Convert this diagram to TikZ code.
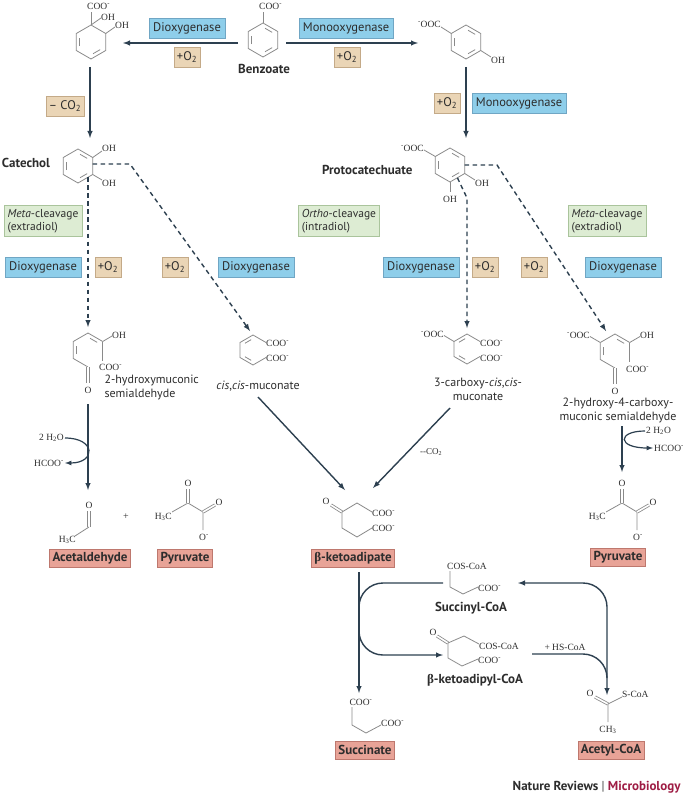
\documentclass[tikz,border=0pt]{standalone}
\usepackage{xcolor}
\usepackage{fontspec}
\setmainfont{PT Sans}
\newfontfamily\chemfont{Liberation Serif}
\usetikzlibrary{arrows,shapes,positioning}

\definecolor{enzfill}{RGB}{142,206,234}
\definecolor{enzline}{RGB}{112,166,196}
\definecolor{cofill}{RGB}{234,213,182}
\definecolor{coline}{RGB}{196,170,136}
\definecolor{clfill}{RGB}{221,236,211}
\definecolor{clline}{RGB}{170,196,156}
\definecolor{prfill}{RGB}{232,163,151}
\definecolor{prline}{RGB}{190,120,110}
\definecolor{arrowcol}{RGB}{45,64,80}
\definecolor{bondcol}{RGB}{138,138,138}
\definecolor{inkcol}{RGB}{45,45,45}
\definecolor{microred}{RGB}{158,28,68}

\newcommand{\boxfont}{\fontsize{12.5}{14}\selectfont}
\newcommand{\cleavefont}{\fontsize{11.5}{13.5}\selectfont}
\newcommand{\namefont}{\fontsize{12}{14}\selectfont}
\newcommand{\boldfont}{\fontsize{13}{15}\selectfont\bfseries}
\newcommand{\coo}{COO\textsuperscript{-}}
\newcommand{\ooc}{\textsuperscript{-}OOC}
\newcommand{\oxy}{+O\textsubscript{2}}
\newcommand{\betasym}{{\chemfont β}}

% ring: centre, radius, start angles of the inner double bonds
\newcommand{\hexring}[3]{%
  \draw[bond] (#1) +(-90:#2) -- +(-30:#2) -- +(30:#2) -- +(90:#2) -- +(150:#2) -- +(210:#2) -- cycle;
  \foreach \a in {#3} \draw[bond] (#1) +(\a+10:0.7*#2) -- +(\a+50:0.7*#2);
}

\tikzset{
  enzyme/.style={draw=enzline, fill=enzfill, text=inkcol, font=\boxfont, minimum height=20pt, inner sep=4pt},
  cofactor/.style={draw=coline, fill=cofill, text=inkcol, font=\boxfont, minimum height=20pt, inner sep=3pt},
  cleavage/.style={draw=clline, fill=clfill, text=inkcol, font=\cleavefont, align=left, inner sep=3.5pt},
  product/.style={draw=prline, fill=prfill, text=inkcol, font=\boldfont, minimum height=18pt, inner sep=3pt},
  compound/.style={text=inkcol, font=\boldfont},
  cname/.style={text=inkcol, font=\namefont, align=center},
  chem/.style={text=inkcol, font=\chemfont\fontsize{9.5}{11}\selectfont, inner sep=1pt},
  bond/.style={draw=bondcol, line width=0.8pt},
  dbond/.style={bond, double, double distance=1.6pt},
  react/.style={->, >=latex, draw=arrowcol, line width=1.4pt},
  dreact/.style={react, dash pattern=on 4.5pt off 3.5pt},
}

\begin{document}
\begin{tikzpicture}[x=1pt, y=-1pt]
\useasboundingbox (0,0) rectangle (685,794);

% --- top row: benzoate and its two first products
\coordinate (diol) at (91,42);
\hexring{diol}{17}{150,30}
\draw[bond] (91,25) -- (91,12);
\draw[bond] (91,25) -- (101,18);
\draw[bond] (105.7,33.5) -- (115,27);
\node[chem, anchor=west] (diolC) at (86,6) {\coo};
\node[chem, anchor=west] (diolO1) at (100,17) {OH};
\node[chem, anchor=west] (diolO2) at (114,25) {OH};

\coordinate (benz) at (263,40);
\hexring{benz}{17}{150,-90,30}
\draw[bond] (263,23) -- (263,12);
\node[chem, anchor=west] (benzC) at (258,6) {\coo};
\node[compound] (benzL) at (264,69) {Benzoate};

\coordinate (hb) at (466,42);
\hexring{hb}{17}{150,-90,30}
\draw[bond] (451.3,33.5) -- (441,27);
\draw[bond] (480.7,50.5) -- (491,57);
\node[chem, anchor=east] (hbC) at (442,24) {\ooc};
\node[chem, anchor=west] (hbO) at (490,60) {OH};

\node[enzyme] (dioxA) at (187,28) {Dioxygenase};
\node[cofactor] (oxA) at (187,57) {\oxy};
\node[enzyme] (monoA) at (346,28) {Monooxygenase};
\node[cofactor] (oxB) at (347,57) {\oxy};

\coordinate (benzW) at (238,43);
\coordinate (diolE) at (123,43);
\coordinate (benzE) at (286,43);
\coordinate (hbW) at (418,43);
\draw[react] (benzW) -- (diolE);
\draw[react] (benzE) -- (hbW);

% --- second row: catechol and protocatechuate
\coordinate (diolS) at (90,67);
\coordinate (catN) at (90,138);
\draw[react] (diolS) -- (catN);
\node[cofactor] (coA) at (65,106) {-- CO\textsubscript{2}};

\coordinate (hbS) at (466,67);
\coordinate (pcaN) at (466,138);
\draw[react] (hbS) -- (pcaN);
\node[cofactor] (oxC) at (447,103) {\oxy};
\node[enzyme] (monoB) at (519,103) {Monooxygenase};

\coordinate (cat) at (78,166);
\hexring{cat}{17}{150,-90,30}
\draw[bond] (92.7,157.5) -- (102,151);
\draw[bond] (92.7,174.5) -- (102,180);
\node[chem, anchor=west] (catO1) at (101,148) {OH};
\node[chem, anchor=west] (catO2) at (101,183) {OH};
\node[compound] (catL) at (26,163) {Catechol};

\coordinate (pca) at (450,165);
\hexring{pca}{17}{150,-90,30}
\draw[bond] (435.3,156.5) -- (424,150);
\draw[bond] (464.7,173.5) -- (475,180);
\draw[bond] (450,182) -- (450,192);
\node[chem, anchor=east] (pcaC) at (425,148) {\ooc};
\node[chem, anchor=west] (pcaO1) at (474,183) {OH};
\node[chem] (pcaO2) at (450,199) {OH};
\node[compound, anchor=east] (pcaL) at (416,170) {Protocatechuate};

% --- ring cleavage
\node[cleavage] (metaA) at (43,221) {\textit{Meta}-cleavage\\(extradiol)};
\node[cleavage] (ortho) at (339,221) {\textit{Ortho}-cleavage\\(intradiol)};
\node[cleavage] (metaB) at (607,221) {\textit{Meta}-cleavage\\(extradiol)};

\node[enzyme] (dioxB) at (43,267) {Dioxygenase};
\node[cofactor] (oxD) at (108,267) {\oxy};
\node[cofactor] (oxE) at (175,267) {\oxy};
\node[enzyme] (dioxC) at (256,267) {Dioxygenase};
\node[enzyme] (dioxD) at (421,267) {Dioxygenase};
\node[cofactor] (oxF) at (485,267) {\oxy};
\node[cofactor] (oxG) at (534,267) {\oxy};
\node[enzyme] (dioxE) at (623,267) {Dioxygenase};

\coordinate (catM) at (88,177.5);
\coordinate (hmsN) at (88,327);
\coordinate (catR) at (92.7,164);
\coordinate (catK) at (130,164);
\coordinate (ccmN) at (250,331);
\coordinate (pcaM) at (457.4,177.8);
\coordinate (pcaK) at (467,198);
\coordinate (tcmN) at (467,328);
\coordinate (pcaR) at (464.7,165);
\coordinate (pcaJ) at (497,165);
\coordinate (hcmN) at (606,331);
\draw[dreact] (catM) -- (hmsN);
\draw[dreact] (catR) -- (catK) -- (ccmN);
\draw[dreact] (pcaM) -- (pcaK) -- (tcmN);
\draw[dreact] (pcaR) -- (pcaJ) -- (hcmN);

% --- open-chain products
\coordinate (hms) at (88,350);
\draw[bond] (hms) +(-30:17) -- +(-90:17) -- +(210:17) -- +(150:17) -- +(90:17);
\draw[bond] (hms) +(-80:11.9) -- +(-40:11.9);
\draw[bond] (hms) +(160:11.9) -- +(200:11.9);
\draw[dbond] (88,367) -- (88,383);
\draw[bond] (102.7,341.5) -- (112,336);
\draw[bond] (102.7,341.5) -- (102.7,361);
\node[chem] (hmsO) at (88,390) {O};
\node[chem, anchor=west] (hmsOH) at (111,335) {OH};
\node[chem, anchor=west] (hmsC) at (98,367) {\coo};
\node[cname, anchor=west, align=left] (hmsL) at (101,387) {2-hydroxymuconic\\semialdehyde};

\coordinate (ccm) at (253,350);
\draw[bond] (ccm) +(-30:15) -- +(-90:15) -- +(210:15) -- +(150:15) -- +(90:15) -- +(30:15);
\draw[bond] (ccm) +(220:10.5) -- +(260:10.5);
\draw[bond] (ccm) +(100:10.5) -- +(140:10.5);
\node[chem, anchor=west] (ccmC1) at (265,343) {\coo};
\node[chem, anchor=west] (ccmC2) at (265,358) {\coo};
\node[cname] (ccmL) at (258,386) {\textit{cis},\textit{cis}-muconate};

\coordinate (tcm) at (467,349);
\draw[bond] (tcm) +(-30:15) -- +(-90:15) -- +(210:15) -- +(150:15) -- +(90:15) -- +(30:15);
\draw[bond] (tcm) +(220:10.5) -- +(260:10.5);
\draw[bond] (tcm) +(100:10.5) -- +(140:10.5);
\draw[bond] (454,341.5) -- (444,335.5);
\node[chem, anchor=east] (tcmC0) at (445,334) {\ooc};
\node[chem, anchor=west] (tcmC1) at (479,343) {\coo};
\node[chem, anchor=west] (tcmC2) at (479,358) {\coo};
\node[cname] (tcmL) at (478,389) {3-carboxy-\textit{cis},\textit{cis}-\\muconate};

\coordinate (hcm) at (615,351);
\draw[bond] (hcm) +(210:17) -- +(-90:17) -- +(-30:17);
\draw[bond] (hcm) +(210:17) -- +(150:17) -- +(90:17);
\draw[bond] (hcm) +(-80:11.9) -- +(-40:11.9);
\draw[bond] (hcm) +(160:11.9) -- +(200:11.9);
\draw[dbond] (615,368) -- (615,384);
\draw[bond] (600.3,342.5) -- (590,336.5);
\draw[bond] (629.7,342.5) -- (640,336.5);
\draw[bond] (629.7,342.5) -- (629.7,362);
\node[chem] (hcmO) at (615,391) {O};
\node[chem, anchor=east] (hcmC0) at (591,335) {\ooc};
\node[chem, anchor=west] (hcmOH) at (639,335) {OH};
\node[chem, anchor=west] (hcmC) at (625,369) {\coo};
\node[cname] (hcmL) at (618,410) {2-hydroxy-4-carboxy-\\muconic semialdehyde};

% --- to the end products
\coordinate (hmsS) at (88,404);
\coordinate (acetN) at (88,490);
\draw[react] (hmsS) -- (acetN);
\node[chem, anchor=east] (wL) at (65,438) {2 H\textsubscript{2}O};
\node[chem, anchor=east] (fL) at (65,463) {HCOO\textsuperscript{-}};
\draw[react, line width=1.2pt] (wL.east) .. controls (96,438) and (96,463) .. (fL.east);

\coordinate (hcmS) at (622,426);
\coordinate (pyrBN) at (622,472);
\draw[react] (hcmS) -- (pyrBN);
\node[chem, anchor=west] (wR) at (645,431) {2 H\textsubscript{2}O};
\node[chem, anchor=west] (fR) at (653,448) {HCOO\textsuperscript{-}};
\draw[react, line width=1.2pt] (wR.west) .. controls (617,431) and (617,448) .. (fR.west);

\coordinate (ccmS) at (258,397);
\coordinate (bkaN1) at (345,490);
\coordinate (tcmS) at (450,408);
\coordinate (bkaN2) at (373,488);
\draw[react] (ccmS) -- (bkaN1);
\draw[react] (tcmS) -- (bkaN2);
\node[chem, font=\chemfont\fontsize{9}{10}\selectfont] (coB) at (431,452) {--CO\textsubscript{2}};

% acetaldehyde + pyruvate
\draw[dbond] (89,511) -- (89,527);
\draw[bond] (89,527) -- (75,536);
\node[chem] (acetO) at (89,505) {O};
\node[chem, anchor=east] (acetH) at (77,540) {H\textsubscript{3}C};
\node[chem, font=\chemfont\fontsize{10}{11}\selectfont] (plus) at (126,517) {+};

\draw[bond] (172,512) -- (188,503) -- (203,512) -- (203,530);
\draw[dbond] (188,503) -- (188,489);
\draw[dbond] (203,512) -- (215,505);
\node[chem] (pyrAO1) at (188,483) {O};
\node[chem] (pyrAO2) at (219,502) {O};
\node[chem] (pyrAO3) at (204,537) {O\textsuperscript{-}};
\node[chem, anchor=east] (pyrAH) at (173,517) {H\textsubscript{3}C};

\draw[bond] (606,512) -- (622,503) -- (637,512) -- (637,530);
\draw[dbond] (622,503) -- (622,489);
\draw[dbond] (637,512) -- (649,505);
\node[chem] (pyrBO1) at (622,483) {O};
\node[chem] (pyrBO2) at (653,502) {O};
\node[chem] (pyrBO3) at (638,537) {O\textsuperscript{-}};
\node[chem, anchor=east] (pyrBH) at (607,517) {H\textsubscript{3}C};

% beta-ketoadipate
\draw[dbond] (342,512) -- (331,505);
\draw[bond] (372,512) -- (357,503) -- (342,512) -- (342,528) -- (357,537) -- (372,528);
\node[chem] (bkaO) at (326,501) {O};
\node[chem, anchor=west] (bkaC1) at (371,513) {\coo};
\node[chem, anchor=west] (bkaC2) at (371,528) {\coo};

\node[product] (acetB) at (90,558) {Acetaldehyde};
\node[product] (pyrA) at (185,558) {Pyruvate};
\node[product] (bkaB) at (353,558) {\betasym-ketoadipate};
\node[product] (pyrB) at (618,557) {Pyruvate};

% --- CoA transfer loop
\draw[bond] (450,571) -- (450,587) -- (463,594) -- (478,587);
\node[chem] (sucCoA) at (467,566) {COS-CoA};
\node[chem, anchor=west] (sucC) at (477,588) {\coo};
\node[compound] (sucL) at (471,608) {Succinyl-CoA};

\draw[dbond] (448,643) -- (437,636);
\draw[bond] (479,644) -- (464,636) -- (448,643) -- (448,658) -- (462,666) -- (478,659);
\node[chem] (kcO) at (433,632) {O};
\node[chem, anchor=west] (kcCoA) at (478,646) {COS-CoA};
\node[chem, anchor=west] (kcC) at (477,660) {\coo};
\node[compound] (kcL) at (475,680) {\betasym-ketoadipyl-CoA};

\coordinate (bkaS) at (359,572);
\coordinate (succN) at (359,693);
\coordinate (sucW) at (443,583);
\coordinate (kcW) at (443,655);
\coordinate (kcE) at (532,654);
\coordinate (acoN) at (607,695);
\coordinate (loopR) at (607,678);
\coordinate (sucE) at (518,583);
\draw[react] (bkaS) -- (succN);
\draw[react, rounded corners=24pt] (sucW) -| (359,619) |- (kcW);
\draw[react, rounded corners=24pt] (kcE) -| (acoN);
\draw[react, rounded corners=24pt] (loopR) |- (sucE);
\node[chem] (hsCoA) at (565,647) {+ HS-CoA};

% succinate
\draw[bond] (352,707) -- (352,725) -- (366,733) -- (381,725);
\node[chem] (succC1) at (361,702) {\coo};
\node[chem, anchor=west] (succC2) at (380,723) {\coo};
\node[product] (succB) at (365,750) {Succinate};

% acetyl-CoA
\draw[dbond] (608,704) -- (595,697);
\draw[bond] (622,697) -- (608,704) -- (608,722);
\node[chem] (acoO) at (590,693) {O};
\node[chem, anchor=west] (acoS) at (621,694) {S-CoA};
\node[chem] (acoH) at (608,730) {CH\textsubscript{3}};
\node[product] (acoB) at (611,750) {Acetyl-CoA};

\node[anchor=east, text=inkcol, font=\boldfont] (credit) at (684,787) {Nature Reviews \textcolor{bondcol}{|} \textcolor{microred}{Microbiology}};
\end{tikzpicture}
\end{document}
